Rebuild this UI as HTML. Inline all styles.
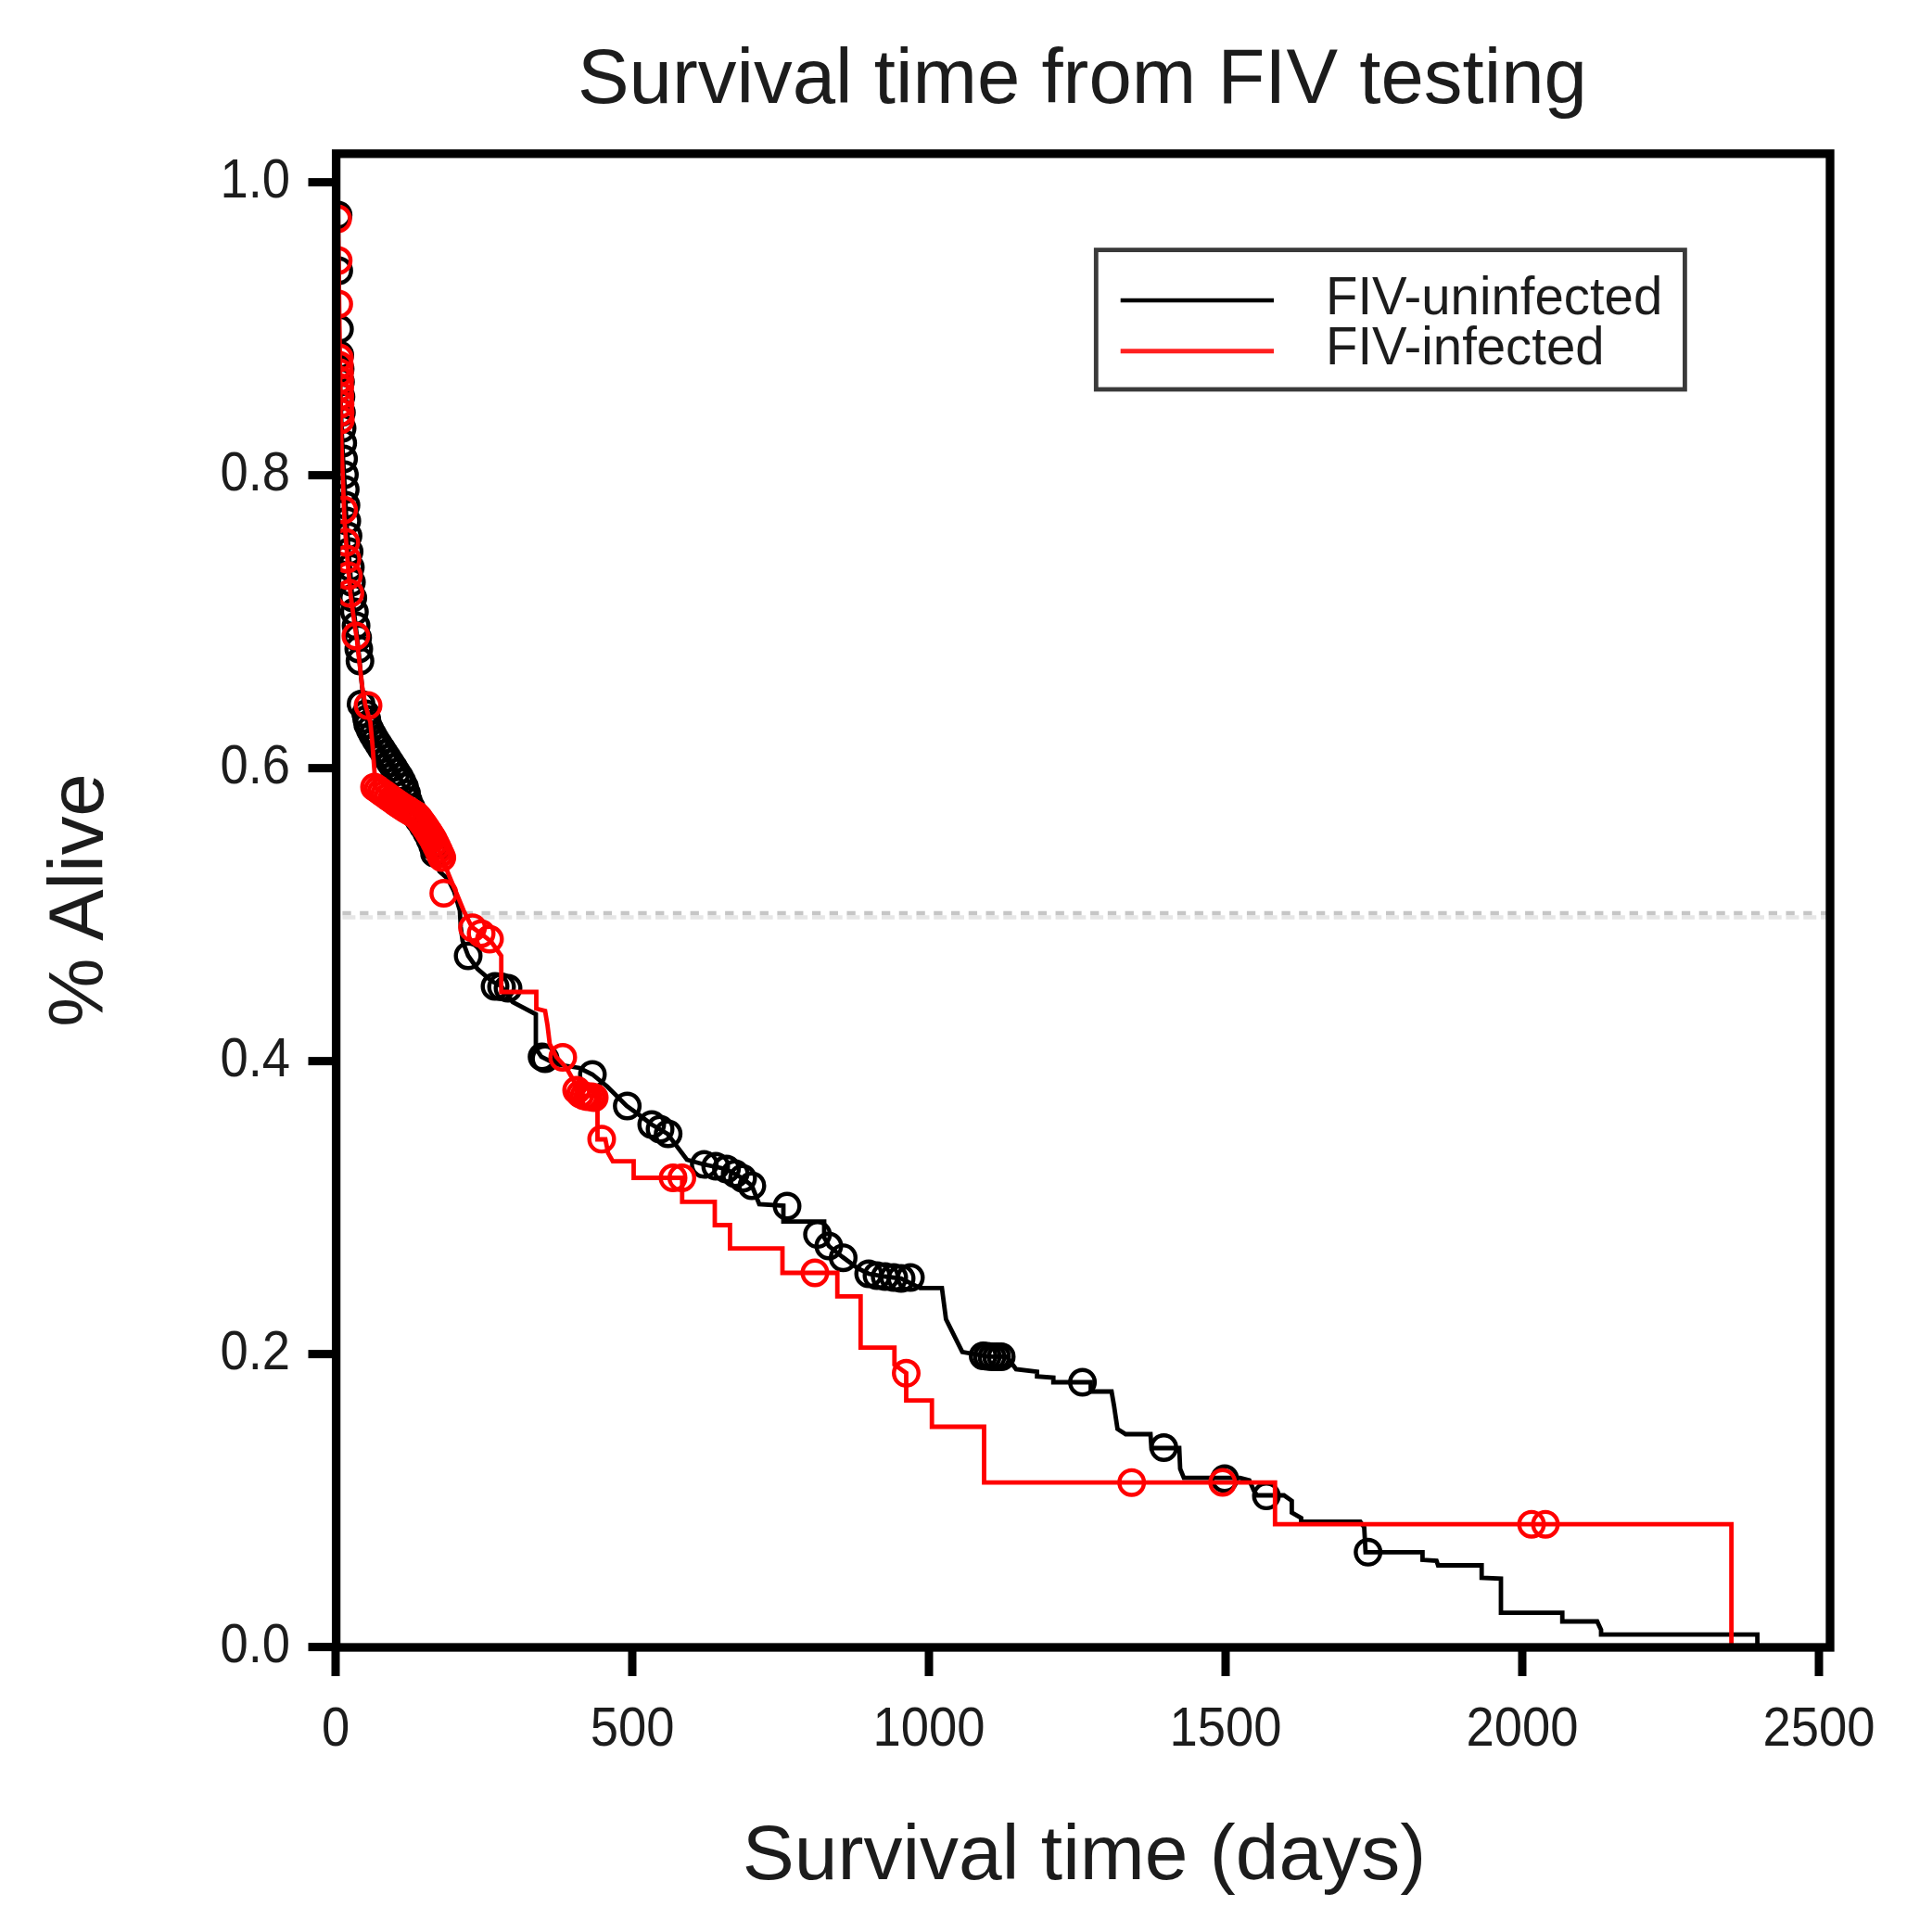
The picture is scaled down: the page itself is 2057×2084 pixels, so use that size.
<!DOCTYPE html>
<html lang="en"><head><meta charset="utf-8"><title>Survival time from FIV testing</title>
<style>
html,body{margin:0;padding:0;background:#fff;}
body{width:2057px;height:2084px;overflow:hidden;}
svg{display:block;}
text{font-family:"Liberation Sans",sans-serif;fill:#1c1c1c;}
.tk{font-size:54.4px;}
.ti{font-size:83.4px;}
.tx{font-size:84px;}
.lg{font-size:54.8px;}
</style></head><body>
<svg width="2057" height="2084" viewBox="0 0 2057 2084">
<rect x="0" y="0" width="2057" height="2084" fill="#ffffff"/>
<defs><clipPath id="plot"><rect x="362.6" y="165.8" width="1611.4" height="1614.2"/></clipPath></defs>
<text class="ti" x="1167.5" y="110.5" text-anchor="middle">Survival time from FIV testing</text>
<text class="tx" x="1169.5" y="2027" text-anchor="middle">Survival time (days)</text>
<text class="ti" transform="translate(111 971) rotate(-90)" text-anchor="middle">% Alive</text>
<line x1="369.4" y1="985.2" x2="1970.0" y2="985.2" stroke="#c6c6c6" stroke-width="4.7" stroke-dasharray="9.3 9.46"/>
<line x1="369.4" y1="989.6" x2="1970.0" y2="989.6" stroke="#e6e6e6" stroke-width="4.5" stroke-dasharray="14 4.76"/>
<g clip-path="url(#plot)" fill="none" stroke-linejoin="miter">
<g stroke="#000000" stroke-width="4.8"><path d="M364.0 214.0 L364.5 260.0 L365.0 300.0 L365.5 340.0 L366.0 383.0 L367.0 420.0 L368.0 450.0 L369.5 485.0 L371.5 520.0 L373.5 560.0 L376.5 600.0 L379.5 640.0 L383.0 670.0 L385.5 690.0 L388.0 715.0 L391.0 745.0 L393.0 762.0 L397.0 783.0 L404.0 796.0 L413.0 810.0 L422.0 824.0 L431.0 838.0 L437.0 850.0 L441.0 866.0 L447.0 878.0 L455.0 889.0 L462.0 901.0 L467.0 913.0 L470.0 926.0 L474.0 940.0 L483.0 948.0 L490.0 962.0 L496.0 982.0 L497.0 1000.0 L499.0 1015.0 L505.0 1031.0 L515.0 1045.0 L530.0 1058.0 L541.0 1064.0 L553.0 1081.0 L578.0 1094.0 L578.0 1131.0 L584.0 1140.0 L600.0 1148.0 L625.0 1152.0 L639.0 1159.0 L655.0 1172.0 L676.0 1193.0 L690.0 1203.0 L703.0 1213.0 L720.0 1223.0 L741.0 1251.0 L759.0 1256.0 L783.0 1261.0 L801.0 1271.0 L811.0 1279.0 L819.0 1299.0 L845.0 1300.5 L845.0 1317.7 L889.0 1317.7 L889.0 1335.0 L894.0 1344.0 L909.0 1356.0 L925.0 1368.0 L937.0 1374.0 L955.0 1377.0 L972.0 1379.0 L992.5 1389.3 L1016.0 1389.3 L1020.4 1423.0 L1038.0 1458.3 L1053.0 1461.0 L1066.0 1463.3 L1086.0 1463.3 L1096.0 1477.0 L1118.6 1479.7 L1118.6 1484.7 L1136.2 1486.0 L1136.2 1491.0 L1176.5 1491.0 L1176.5 1501.0 L1199.0 1501.0 L1201.6 1516.0 L1205.4 1541.4 L1214.2 1547.0 L1241.0 1547.0 L1242.0 1562.0 L1272.0 1562.0 L1273.0 1584.5 L1277.0 1594.2 L1337.5 1594.2 L1347.6 1596.7 L1352.6 1608.0 L1356.0 1613.0 L1385.0 1613.0 L1393.4 1618.9 L1393.4 1631.5 L1403.5 1637.3 L1403.5 1641.5 L1467.3 1641.5 L1471.5 1647.4 L1473.0 1674.3 L1534.4 1674.3 L1534.4 1682.6 L1549.5 1683.5 L1551.2 1688.5 L1598.2 1688.5 L1598.2 1702.0 L1619.0 1702.8 L1619.0 1739.7 L1685.2 1739.7 L1685.2 1749.0 L1722.8 1749.0 L1727.0 1758.0 L1727.0 1763.2 L1895.6 1763.2 L1895.6 1777.0"/></g>
<g stroke="#000000" stroke-width="4.4"><circle cx="364.7" cy="232.0" r="13.3"/>
<circle cx="365.4" cy="292.0" r="13.3"/>
<circle cx="366.2" cy="355.0" r="13.3"/>
<circle cx="366.5" cy="383.0" r="13.3"/>
<circle cx="366.9" cy="398.0" r="13.3"/>
<circle cx="367.3" cy="412.0" r="13.3"/>
<circle cx="367.8" cy="428.0" r="13.3"/>
<circle cx="368.3" cy="445.0" r="13.3"/>
<circle cx="369.0" cy="462.0" r="13.3"/>
<circle cx="369.7" cy="478.0" r="13.3"/>
<circle cx="370.6" cy="495.0" r="13.3"/>
<circle cx="371.5" cy="512.0" r="13.3"/>
<circle cx="372.4" cy="528.0" r="13.3"/>
<circle cx="373.2" cy="545.0" r="13.3"/>
<circle cx="374.1" cy="562.0" r="13.3"/>
<circle cx="375.4" cy="578.0" r="13.3"/>
<circle cx="376.6" cy="595.0" r="13.3"/>
<circle cx="377.9" cy="612.0" r="13.3"/>
<circle cx="379.1" cy="628.0" r="13.3"/>
<circle cx="380.6" cy="645.0" r="13.3"/>
<circle cx="382.3" cy="660.0" r="13.3"/>
<circle cx="384.1" cy="675.0" r="13.3"/>
<circle cx="385.8" cy="688.0" r="13.3"/>
<circle cx="387.0" cy="700.0" r="13.3"/>
<circle cx="388.3" cy="713.0" r="13.3"/>
<circle cx="389.5" cy="759.5" r="13.3"/>
<circle cx="394.5" cy="769.9" r="13.3"/>
<circle cx="395.6" cy="775.8" r="13.3"/>
<circle cx="396.7" cy="781.6" r="13.3"/>
<circle cx="399.2" cy="787.1" r="13.3"/>
<circle cx="402.0" cy="792.4" r="13.3"/>
<circle cx="405.0" cy="797.6" r="13.3"/>
<circle cx="408.2" cy="802.6" r="13.3"/>
<circle cx="411.5" cy="807.7" r="13.3"/>
<circle cx="414.7" cy="812.7" r="13.3"/>
<circle cx="418.0" cy="817.8" r="13.3"/>
<circle cx="421.2" cy="822.8" r="13.3"/>
<circle cx="424.5" cy="827.8" r="13.3"/>
<circle cx="427.7" cy="832.9" r="13.3"/>
<circle cx="431.0" cy="837.9" r="13.3"/>
<circle cx="433.7" cy="843.3" r="13.3"/>
<circle cx="436.3" cy="848.7" r="13.3"/>
<circle cx="438.5" cy="855.8" r="13.3"/>
<circle cx="440.4" cy="863.6" r="13.3"/>
<circle cx="443.5" cy="870.9" r="13.3"/>
<circle cx="447.1" cy="878.1" r="13.3"/>
<circle cx="451.8" cy="884.5" r="13.3"/>
<circle cx="456.3" cy="891.2" r="13.3"/>
<circle cx="460.3" cy="898.1" r="13.3"/>
<circle cx="463.8" cy="905.2" r="13.3"/>
<circle cx="466.8" cy="912.6" r="13.3"/>
<circle cx="468.7" cy="920.4" r="13.3"/>
<circle cx="505.0" cy="1031.0" r="13.3"/>
<circle cx="534.0" cy="1064.0" r="13.3"/>
<circle cx="541.0" cy="1064.6" r="13.3"/>
<circle cx="548.0" cy="1066.0" r="13.3"/>
<circle cx="584.7" cy="1140.0" r="13.3"/>
<circle cx="588.0" cy="1142.0" r="13.3"/>
<circle cx="639.0" cy="1159.0" r="13.3"/>
<circle cx="676.6" cy="1193.0" r="13.3"/>
<circle cx="703.0" cy="1213.0" r="13.3"/>
<circle cx="712.0" cy="1218.0" r="13.3"/>
<circle cx="720.7" cy="1223.0" r="13.3"/>
<circle cx="759.7" cy="1256.0" r="13.3"/>
<circle cx="772.0" cy="1258.0" r="13.3"/>
<circle cx="783.6" cy="1261.0" r="13.3"/>
<circle cx="793.0" cy="1266.0" r="13.3"/>
<circle cx="801.0" cy="1271.0" r="13.3"/>
<circle cx="811.0" cy="1279.0" r="13.3"/>
<circle cx="849.0" cy="1301.0" r="13.3"/>
<circle cx="881.8" cy="1331.6" r="13.3"/>
<circle cx="894.0" cy="1344.0" r="13.3"/>
<circle cx="909.5" cy="1356.7" r="13.3"/>
<circle cx="937.0" cy="1374.0" r="13.3"/>
<circle cx="946.0" cy="1376.0" r="13.3"/>
<circle cx="954.8" cy="1377.0" r="13.3"/>
<circle cx="964.0" cy="1378.0" r="13.3"/>
<circle cx="972.0" cy="1379.0" r="13.3"/>
<circle cx="982.0" cy="1378.0" r="13.3"/>
<circle cx="1060.5" cy="1462.5" r="13.3"/>
<circle cx="1065.0" cy="1463.0" r="13.3"/>
<circle cx="1070.0" cy="1463.5" r="13.3"/>
<circle cx="1075.0" cy="1463.5" r="13.3"/>
<circle cx="1080.0" cy="1463.5" r="13.3"/>
<circle cx="1167.6" cy="1491.0" r="13.3"/>
<circle cx="1255.4" cy="1561.5" r="13.3"/>
<circle cx="1321.0" cy="1595.0" r="13.3"/>
<circle cx="1366.0" cy="1613.6" r="13.3"/>
<circle cx="1475.7" cy="1674.3" r="13.3"/></g>
<g stroke="#ff0000" stroke-width="4.8"><path d="M364.5 214.0 L365.0 260.0 L365.5 300.0 L366.0 340.0 L366.5 383.0 L367.0 420.0 L367.5 450.0 L368.5 485.0 L370.0 520.0 L371.5 560.0 L374.5 600.0 L378.0 640.0 L382.0 670.0 L385.0 690.0 L389.0 726.0 L391.0 743.0 L394.0 760.0 L399.5 779.0 L402.0 806.0 L404.0 833.0 L404.0 849.0 L418.0 859.0 L432.0 869.0 L450.0 880.0 L458.0 891.0 L466.0 903.0 L472.0 915.0 L477.0 926.0 L485.0 946.0 L493.0 965.0 L500.0 982.0 L509.0 1000.0 L520.0 1008.0 L530.0 1016.0 L540.7 1031.0 L540.7 1070.0 L578.5 1070.0 L578.5 1088.0 L588.0 1090.5 L590.5 1105.5 L593.0 1126.0 L600.0 1140.0 L611.0 1152.0 L619.0 1166.0 L624.0 1182.0 L644.5 1182.0 L644.5 1229.0 L653.0 1229.0 L656.0 1244.0 L661.0 1252.7 L683.5 1252.7 L683.5 1270.5 L735.8 1270.5 L735.8 1296.3 L771.0 1296.3 L771.0 1321.5 L787.4 1321.5 L787.4 1346.7 L844.0 1346.7 L844.0 1373.0 L903.2 1373.0 L903.2 1398.3 L928.3 1398.3 L928.3 1453.6 L964.8 1453.6 L964.8 1472.0 L977.5 1481.0 L977.5 1510.6 L1005.2 1510.6 L1005.2 1539.0 L1061.5 1539.0 L1061.5 1599.2 L1375.3 1599.2 L1375.3 1644.2 L1867.6 1644.2 L1867.6 1777.0"/></g>
<g stroke="#ff0000" stroke-width="4.4"><circle cx="364.2" cy="236.0" r="13.3"/>
<circle cx="364.8" cy="281.0" r="13.3"/>
<circle cx="365.4" cy="328.0" r="13.3"/>
<circle cx="366.0" cy="386.0" r="13.3"/>
<circle cx="366.1" cy="394.0" r="13.3"/>
<circle cx="366.3" cy="402.0" r="13.3"/>
<circle cx="366.4" cy="410.0" r="13.3"/>
<circle cx="366.5" cy="418.0" r="13.3"/>
<circle cx="366.6" cy="427.0" r="13.3"/>
<circle cx="366.8" cy="436.0" r="13.3"/>
<circle cx="366.9" cy="445.0" r="13.3"/>
<circle cx="367.1" cy="453.0" r="13.3"/>
<circle cx="370.6" cy="550.0" r="13.3"/>
<circle cx="372.9" cy="585.0" r="13.3"/>
<circle cx="374.3" cy="603.0" r="13.3"/>
<circle cx="375.8" cy="621.0" r="13.3"/>
<circle cx="377.5" cy="640.0" r="13.3"/>
<circle cx="383.9" cy="686.0" r="13.3"/>
<circle cx="397.0" cy="761.0" r="13.3"/>
<circle cx="404.0" cy="849.0" r="13.3"/>
<circle cx="407.7" cy="851.6" r="13.3"/>
<circle cx="411.3" cy="854.2" r="13.3"/>
<circle cx="415.0" cy="856.8" r="13.3"/>
<circle cx="418.6" cy="859.5" r="13.3"/>
<circle cx="422.3" cy="862.1" r="13.3"/>
<circle cx="426.0" cy="864.7" r="13.3"/>
<circle cx="429.6" cy="867.3" r="13.3"/>
<circle cx="433.4" cy="869.8" r="13.3"/>
<circle cx="437.2" cy="872.2" r="13.3"/>
<circle cx="441.0" cy="874.5" r="13.3"/>
<circle cx="444.9" cy="876.9" r="13.3"/>
<circle cx="448.7" cy="879.2" r="13.3"/>
<circle cx="451.8" cy="882.4" r="13.3"/>
<circle cx="454.4" cy="886.1" r="13.3"/>
<circle cx="457.1" cy="889.7" r="13.3"/>
<circle cx="459.6" cy="893.4" r="13.3"/>
<circle cx="462.1" cy="897.2" r="13.3"/>
<circle cx="464.6" cy="900.9" r="13.3"/>
<circle cx="466.9" cy="904.8" r="13.3"/>
<circle cx="468.9" cy="908.8" r="13.3"/>
<circle cx="470.9" cy="912.8" r="13.3"/>
<circle cx="472.9" cy="916.9" r="13.3"/>
<circle cx="474.7" cy="921.0" r="13.3"/>
<circle cx="476.6" cy="925.1" r="13.3"/>
<circle cx="478.7" cy="963.5" r="13.3"/>
<circle cx="509.7" cy="1000.8" r="13.3"/>
<circle cx="519.0" cy="1007.0" r="13.3"/>
<circle cx="528.0" cy="1013.0" r="13.3"/>
<circle cx="607.0" cy="1140.5" r="13.3"/>
<circle cx="622.0" cy="1176.0" r="13.3"/>
<circle cx="626.0" cy="1180.0" r="13.3"/>
<circle cx="630.0" cy="1182.0" r="13.3"/>
<circle cx="634.0" cy="1183.0" r="13.3"/>
<circle cx="638.0" cy="1183.0" r="13.3"/>
<circle cx="641.0" cy="1184.0" r="13.3"/>
<circle cx="649.0" cy="1228.8" r="13.3"/>
<circle cx="726.0" cy="1270.5" r="13.3"/>
<circle cx="735.5" cy="1270.5" r="13.3"/>
<circle cx="879.0" cy="1373.0" r="13.3"/>
<circle cx="977.5" cy="1481.3" r="13.3"/>
<circle cx="1220.7" cy="1599.2" r="13.3"/>
<circle cx="1318.8" cy="1599.0" r="13.3"/>
<circle cx="1652.0" cy="1644.2" r="13.3"/>
<circle cx="1667.0" cy="1644.2" r="13.3"/></g>
</g>
<g fill="none" stroke="#000000">
<rect x="362.6" y="165.8" width="1611.4" height="1611.2" stroke-width="9.3"/>
<g stroke-width="9.0">
<line x1="362.0" y1="1777.0" x2="362.0" y2="1808"/>
<line x1="682.0" y1="1777.0" x2="682.0" y2="1808"/>
<line x1="1002.0" y1="1777.0" x2="1002.0" y2="1808"/>
<line x1="1322.0" y1="1777.0" x2="1322.0" y2="1808"/>
<line x1="1642.0" y1="1777.0" x2="1642.0" y2="1808"/>
<line x1="1962.0" y1="1777.0" x2="1962.0" y2="1808"/>
<line x1="332.5" y1="1776.6" x2="362.6" y2="1776.6"/>
<line x1="332.5" y1="1460.6" x2="362.6" y2="1460.6"/>
<line x1="332.5" y1="1144.6" x2="362.6" y2="1144.6"/>
<line x1="332.5" y1="828.6" x2="362.6" y2="828.6"/>
<line x1="332.5" y1="512.6" x2="362.6" y2="512.6"/>
<line x1="332.5" y1="196.6" x2="362.6" y2="196.6"/>
</g></g>
<text class="tk" transform="translate(362.0 1882.5) scale(1 1.080)" text-anchor="middle">0</text>
<text class="tk" transform="translate(682.0 1882.5) scale(1 1.080)" text-anchor="middle">500</text>
<text class="tk" transform="translate(1002.0 1882.5) scale(1 1.080)" text-anchor="middle">1000</text>
<text class="tk" transform="translate(1322.0 1882.5) scale(1 1.080)" text-anchor="middle">1500</text>
<text class="tk" transform="translate(1642.0 1882.5) scale(1 1.080)" text-anchor="middle">2000</text>
<text class="tk" transform="translate(1962.0 1882.5) scale(1 1.080)" text-anchor="middle">2500</text>
<text class="tk" transform="translate(313 1792.6) scale(1 1.080)" text-anchor="end">0.0</text>
<text class="tk" transform="translate(313 1476.6) scale(1 1.080)" text-anchor="end">0.2</text>
<text class="tk" transform="translate(313 1160.6) scale(1 1.080)" text-anchor="end">0.4</text>
<text class="tk" transform="translate(313 844.6) scale(1 1.080)" text-anchor="end">0.6</text>
<text class="tk" transform="translate(313 528.6) scale(1 1.080)" text-anchor="end">0.8</text>
<text class="tk" transform="translate(313 212.6) scale(1 1.080)" text-anchor="end">1.0</text>
<rect x="1182.3" y="269.6" width="635.1" height="150.4" fill="#ffffff" stroke="#3a3a3a" stroke-width="4.8"/>
<line x1="1208.7" y1="324" x2="1374" y2="324" stroke="#000000" stroke-width="4.4"/>
<line x1="1208.7" y1="378.7" x2="1374" y2="378.7" stroke="#ff2020" stroke-width="5"/>
<text class="lg" transform="translate(1430 338.6) scale(1.028 1.05)">FIV-uninfected</text>
<text class="lg" transform="translate(1430 393.4) scale(1.028 1.05)">FIV-infected</text>
</svg></body></html>
